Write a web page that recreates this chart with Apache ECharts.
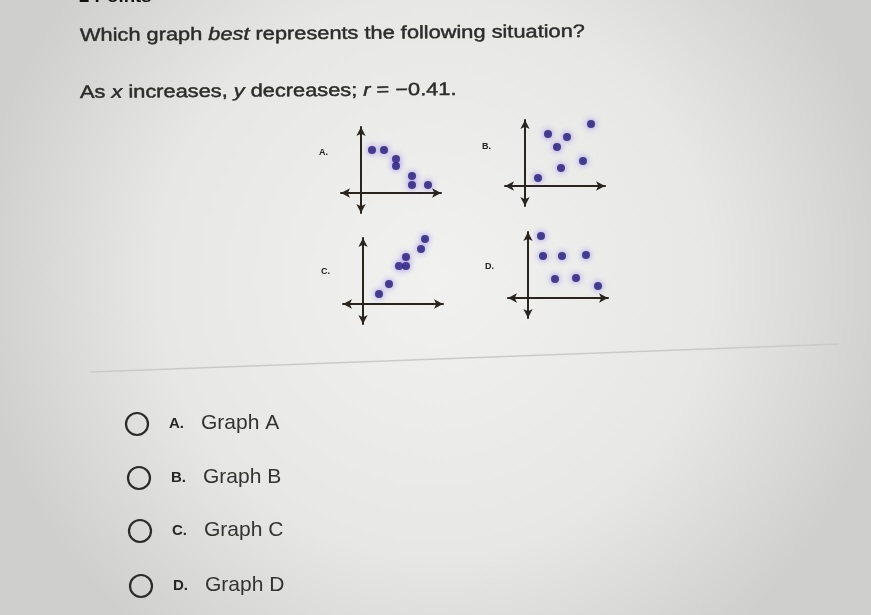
<!DOCTYPE html>
<html>
<head>
<meta charset="utf-8">
<script src="https://cdn.jsdelivr.net/npm/echarts@6/dist/echarts.min.js"></script>
<style>
  html, body { margin: 0; padding: 0; }
  #chart { width: 871px; height: 615px; }
</style>
</head>
<body>
<div id="chart"></div>
<script>
// points of the four small scatter plots (origin = where the axes cross)
const graphA = [[11, 43], [23, 43], [35, 34], [35, 27], [51, 17], [51, 8], [67, 8]];
const graphB = [[13, 8], [23, 52], [32, 39], [36, 18], [42, 49], [58, 25], [66, 62]];
const graphC = [[16, 10], [26, 20], [36, 38], [43, 38], [43, 47], [58, 55], [62, 65]];
const graphD = [[13, 62], [15, 42], [27, 19], [34, 42], [48, 20], [58, 43], [70, 12]];
const graphNames = ['A.', 'B.', 'C.', 'D.'];
const choices = ['Graph A', 'Graph B', 'Graph C', 'Graph D'];

const allGraphs = [graphA, graphB, graphC, graphD];
const gridPos = [
  { left: 341, top: 127 },
  { left: 505, top: 120 },
  { left: 343, top: 238 },
  { left: 508, top: 232 }
];
const namePos = [[319, 153], [482, 147], [321, 272], [485, 267]];
const circleY = [424, 478, 531, 586];
const circleX = [137, 139, 140, 141];

const axisColor = '#2a241f';
const dotColor = '#221c78';

const axisBase = {
  axisLine: {
    onZero: true,
    symbol: ['arrow', 'arrow'],
    symbolSize: [7, 9],
    lineStyle: { color: axisColor, width: 2 }
  },
  axisTick: { show: false },
  axisLabel: { show: false },
  splitLine: { show: false }
};

const grids = gridPos.map(p => ({ left: p.left, top: p.top, width: 100, height: 86 }));
const xAxes = grids.map((g, i) => Object.assign({ type: 'value', gridIndex: i, min: -20, max: 80 }, axisBase));
const yAxes = grids.map((g, i) => Object.assign({ type: 'value', gridIndex: i, min: -20, max: 66 }, axisBase));

const series = allGraphs.map((d, i) => ({
  type: 'scatter',
  xAxisIndex: i,
  yAxisIndex: i,
  data: d,
  symbolSize: 8,
  itemStyle: { color: dotColor, shadowBlur: 6, shadowColor: 'rgba(120,80,230,0.85)' },
  silent: true,
  z: 5
}));

// the photo is a little tilted and the question font is wide
const tilt = 0.008;
const wide = 1.21;
const textColor = '#2b2b2b';
const qFont = "18px 'Liberation Sans'";
const italicRich = { i: { fontStyle: 'italic', fontSize: 18, fontFamily: 'Liberation Sans', fill: textColor } };
const graphics = [
  {
    type: 'text', x: 79, y: -11, scaleX: 1.1,
    style: { text: '2 Points', fill: '#111', font: "bold 17px 'Liberation Sans'" }
  },
  {
    type: 'text', x: 80, y: 36, rotation: tilt, scaleX: wide,
    style: {
      text: 'Which graph {i|best} represents the following situation?',
      fill: textColor, font: qFont, verticalAlign: 'middle',
      stroke: textColor, lineWidth: 0.45, rich: italicRich
    }
  },
  {
    type: 'text', x: 80, y: 93, rotation: tilt, scaleX: wide,
    style: {
      text: 'As {i|x} increases, {i|y} decreases; {i|r} = \u22120.41.',
      fill: textColor, font: qFont, verticalAlign: 'middle',
      stroke: textColor, lineWidth: 0.45, rich: italicRich
    }
  },
  {
    type: 'line',
    shape: { x1: 91, y1: 372, x2: 839, y2: 344 },
    style: { stroke: '#cacaca', lineWidth: 1.5 }
  }
];

namePos.forEach((p, i) => {
  graphics.push({
    type: 'text', x: p[0], y: p[1],
    style: { text: graphNames[i], fill: '#222', font: "bold 9px 'Liberation Sans'", verticalAlign: 'middle' }
  });
});

choices.forEach((c, i) => {
  graphics.push({
    type: 'circle',
    shape: { cx: circleX[i], cy: circleY[i], r: 11 },
    style: { fill: 'none', stroke: '#2a2a2a', lineWidth: 2.2 }
  });
  graphics.push({
    type: 'text', x: circleX[i] + 32, y: circleY[i],
    style: { text: graphNames[i], fill: '#262626', font: "bold 15px 'Liberation Sans'", verticalAlign: 'middle' }
  });
  graphics.push({
    type: 'text', x: circleX[i] + 64, y: circleY[i] - 1,
    style: { text: c, fill: '#333', font: "21px 'Liberation Sans'", verticalAlign: 'middle' }
  });
});

const chart = echarts.init(document.getElementById('chart'));
chart.setOption({
  animation: false,
  backgroundColor: {
    type: 'radial', x: 0.5, y: 0.45, r: 0.75,
    colorStops: [
      { offset: 0, color: '#f1f2f0' },
      { offset: 0.6, color: '#e7e8e6' },
      { offset: 1, color: '#cfd0ce' }
    ]
  },
  grid: grids,
  xAxis: xAxes,
  yAxis: yAxes,
  series: series,
  graphic: graphics
});
</script>
</body>
</html>
